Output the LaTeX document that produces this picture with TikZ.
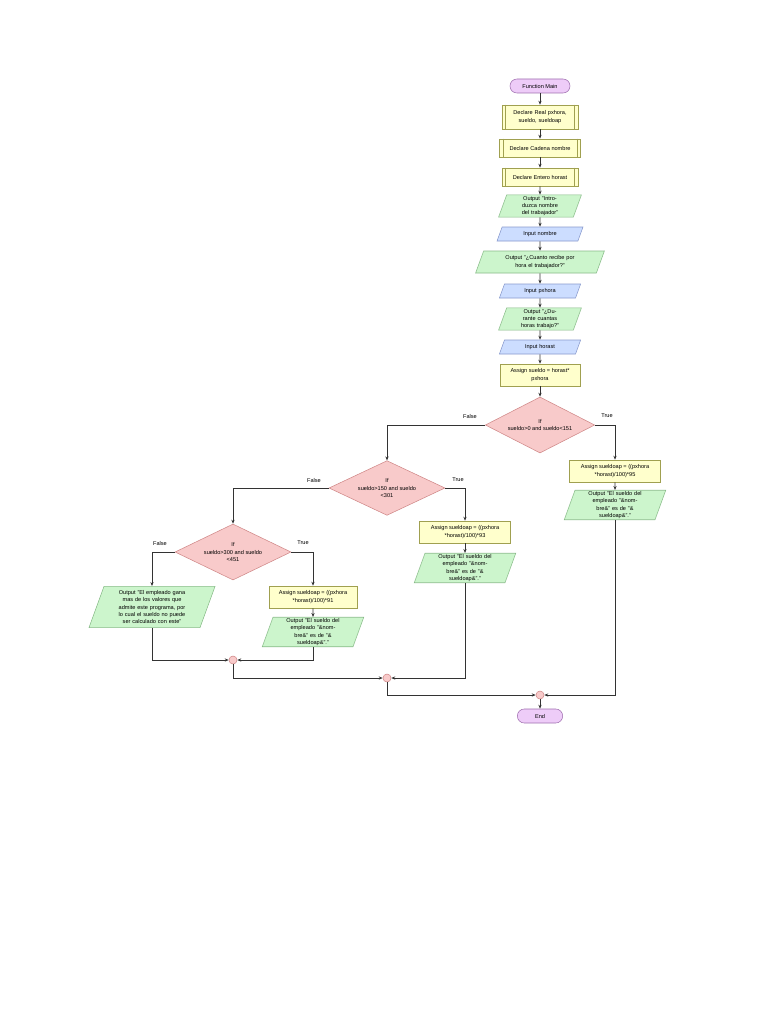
\documentclass[tikz,border=0pt]{standalone}
\usepackage{fontspec}
\setmainfont{Liberation Sans}
\usetikzlibrary{shapes.geometric,arrows.meta}
\definecolor{pfill}{HTML}{EECCF8}\definecolor{pdraw}{HTML}{A070B0}
\definecolor{yfill}{HTML}{FFFFCC}\definecolor{ydraw}{HTML}{A0A050}
\definecolor{gfill}{HTML}{CCF5CC}\definecolor{gdraw}{HTML}{88BB88}
\definecolor{bfill}{HTML}{CCDDFF}\definecolor{bdraw}{HTML}{8899CC}
\definecolor{rfill}{HTML}{F8CACA}\definecolor{rdraw}{HTML}{D08888}
\tikzset{
 base/.style={font=\fontsize{4.2}{5.4}\selectfont,align=center,inner sep=1pt},
 term/.style={base,rounded corners=5.2pt,fill=pfill,draw=pdraw,minimum height=10.5pt},
 decl/.style={base,fill=yfill,draw=ydraw,minimum height=#1},
 proc/.style={base,fill=yfill,draw=ydraw,minimum height=16.5pt},
 outp/.style={base,trapezium,trapezium left angle=70,trapezium right angle=110,fill=gfill,draw=gdraw,minimum height=#1},
 inp/.style={base,trapezium,trapezium left angle=70,trapezium right angle=110,fill=bfill,draw=bdraw,minimum height=10.5pt},
 dec/.style={base,diamond,aspect=2,fill=rfill,draw=rdraw,inner sep=0pt},
 merge/.style={circle,fill=rfill,draw=rdraw,minimum size=6pt,inner sep=0pt},
 arr/.style={-{Stealth[length=3pt,width=2.4pt]},draw=black!80,line width=0.5pt},
 lbl/.style={font=\fontsize{4.2}{5}\selectfont}
}
\begin{document}
\begin{tikzpicture}[x=0.75pt,y=-0.75pt]
\useasboundingbox (0,0) rectangle (768,1024);
\fill[white] (0,0) rectangle (768,1024);
\node[term,minimum width=45pt] (m) at (540,86) {Function Main};
\node[decl=18pt,minimum width=57pt,text width=50pt] (d1) at (540,117) {Declare Real pxhora,\\sueldo, sueldoap};
\node[decl=13.5pt,minimum width=61pt] (d2) at (540,148) {Declare Cadena nombre};
\node[decl=13.5pt,minimum width=57pt] (d3) at (540,177) {Declare Entero horast};
\foreach \n in {d1,d2,d3}{\draw[ydraw] ([xshift=3pt]\n.north west)--([xshift=3pt]\n.south west) ([xshift=-3pt]\n.north east)--([xshift=-3pt]\n.south east);}
\node[outp=16.5pt,text width=48pt] (o1) at (540,206) {Output "Introduzca nombre\\del trabajador"};
\node[inp,text width=30pt] (i1) at (540,234) {Input nombre};
\node[outp=16.5pt,text width=56pt] (o2) at (540,262) {Output "¿Cuanto recibe por\\hora el trabajador?"};
\node[inp,text width=28pt] (i2) at (540,291) {Input pxhora};
\node[outp=16.5pt,text width=48pt] (o3) at (540,319) {Output "¿Durante cuantas\\horas trabajo?"};
\node[inp,text width=28pt] (i3) at (540,347) {Input horast};
\node[proc,minimum width=60pt] (a1) at (540,375) {Assign sueldo = horast*\\pxhora};
\node[dec,minimum width=82pt,minimum height=42pt] (if1) at (540,425) {If\\sueldo>0 and sueldo<151};
\node[proc,minimum width=68pt] (a2) at (615,471) {Assign sueldoap = ((pxhora\\*horast)/100)*95};
\node[outp=21pt,text width=58pt] (o4) at (615,505) {Output "El sueldo del\\empleado "\&nombre\&" es de "\&\\sueldoap\&"."};
\node[dec,minimum width=87pt,minimum height=41pt] (if2) at (387,488) {If\\sueldo>150 and sueldo\\<301};
\node[proc,minimum width=68pt] (a3) at (465,532) {Assign sueldoap = ((pxhora\\*horast)/100)*93};
\node[outp=21pt,text width=58pt] (o5) at (465,568) {Output "El sueldo del\\empleado "\&nombre\&" es de "\&\\sueldoap\&"."};
\node[dec,minimum width=87pt,minimum height=42pt] (if3) at (233,552) {If\\sueldo>300 and sueldo\\<451};
\node[proc,minimum width=66pt] (a4) at (313,597) {Assign sueldoap = ((pxhora\\*horast)/100)*91};
\node[outp=21pt,text width=58pt] (o6) at (313,632) {Output "El sueldo del\\empleado "\&nombre\&" es de "\&\\sueldoap\&"."};
\node[outp=31pt,text width=60pt] (o7) at (152,607) {Output "El empleado gana\\mas de los valores que\\admite este programa, por\\lo cual el sueldo no puede\\ser calculado con este"};
\node[merge] (j1) at (233,660) {};
\node[merge] (j2) at (387,678) {};
\node[merge] (j3) at (540,695) {};
\node[term,minimum width=34pt] (e) at (540,716) {End};
\foreach \a/\b in {m/d1,d1/d2,d2/d3,d3/o1,o1/i1,i1/o2,o2/i2,i2/o3,o3/i3,i3/a1,a1/if1,a2/o4,a3/o5,a4/o6,j3/e}{\draw[arr] (\a)--(\b);}
\draw[arr] (if1.east)-|(a2.north);
\draw[arr] (if1.west)-|(if2.north);
\draw[arr] (if2.east)-|(a3.north);
\draw[arr] (if2.west)-|(if3.north);
\draw[arr] (if3.east)-|(a4.north);
\draw[arr] (if3.west)-|(o7.north);
\node[lbl] at (470,416) {False};\node[lbl] at (607,416) {True};
\node[lbl] at (314,480) {False};\node[lbl] at (458,480) {True};
\node[lbl] at (160,543) {False};\node[lbl] at (303,543) {True};
\draw[arr] (o7.south)|-(j1.west);
\draw[arr] (o6.south)|-(j1.east);
\draw[arr] (j1.south)|-(j2.west);
\draw[arr] (o5.south)|-(j2.east);
\draw[arr] (j2.south)|-(j3.west);
\draw[arr] (o4.south)|-(j3.east);
\end{tikzpicture}
\end{document}
